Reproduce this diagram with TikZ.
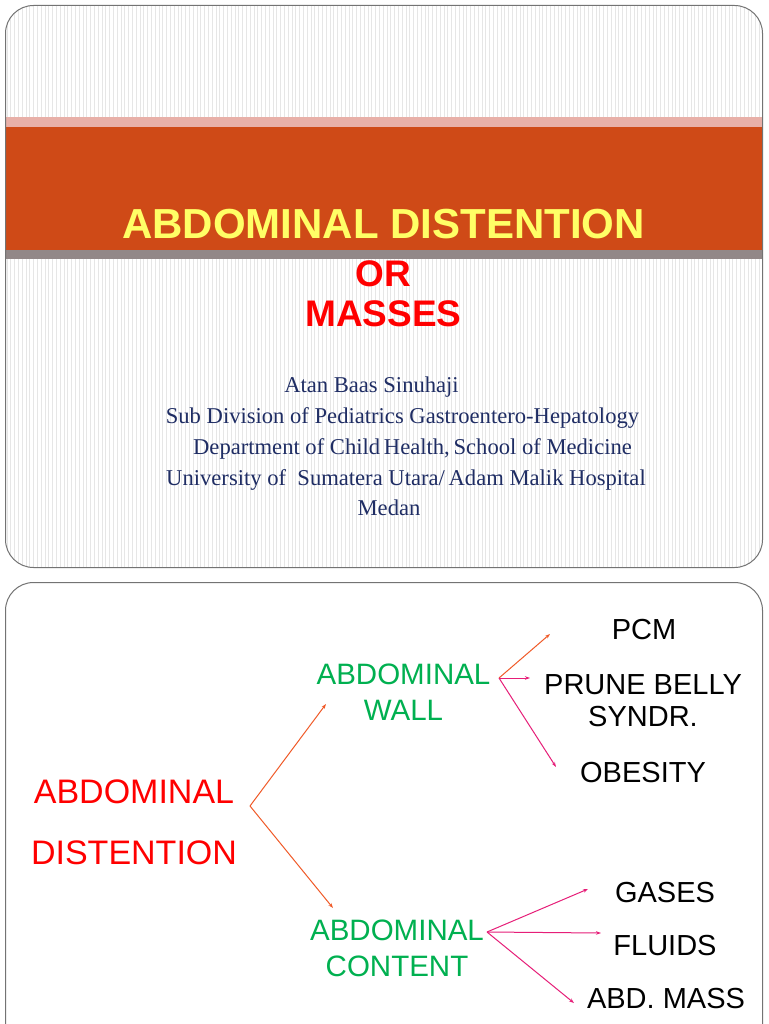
\documentclass[tikz,border=0pt]{standalone}
\usepackage{fontspec}
\setmainfont{Liberation Serif}
\setsansfont{Liberation Sans}
\usetikzlibrary{arrows.meta}
\definecolor{bandpink}{RGB}{232,176,168}
\definecolor{bandorange}{RGB}{207,74,23}
\definecolor{bandgrey}{RGB}{146,136,136}
\definecolor{titleyellow}{RGB}{255,255,102}
\definecolor{navy}{RGB}{31,45,100}
\definecolor{stripegrey}{RGB}{230,230,230}
\definecolor{arroworange}{RGB}{240,90,40}
\definecolor{arrowpink}{RGB}{230,30,120}
\definecolor{wallgreen}{RGB}{0,176,80}
\definecolor{framegrey}{RGB}{115,115,115}
\definecolor{pureRed}{RGB}{255,0,0}
\tikzset{
  slideframe/.style={draw=framegrey, line width=1pt, rounded corners=28pt},
  authorline/.style={anchor=base, inner sep=0pt, text=navy, font=\fontsize{22.6}{22.6}\selectfont},
  rootlabel/.style={text=pureRed, align=center, font=\sffamily\fontsize{34}{61}\selectfont},
  greenlabel/.style={text=wallgreen, align=center, font=\sffamily\fontsize{29.5}{36}\selectfont},
  leaflabel/.style={text=black, align=center, font=\sffamily\fontsize{29}{32}\selectfont},
  orangearrow/.style={draw=arroworange, line width=1pt, -{Stealth[length=5pt,width=3.5pt]}},
  pinkarrow/.style={draw=arrowpink, line width=1pt, -{Stealth[length=5pt,width=3.5pt]}},
}
\begin{document}
\begin{tikzpicture}[x=1pt,y=-1pt]
\useasboundingbox (0,0) rectangle (768,1024);
\begin{scope}
\clip (0,0) rectangle (768,1024);
% ---------- slide 1 ----------
\begin{scope}
\clip[rounded corners=28pt] (5.5,5.5) rectangle (762.5,567.5);
\fill[white] (0,0) rectangle (768,570);
\foreach \x in {7,10.8,...,763} \draw[stripegrey, line width=0.8pt] (\x,5) -- (\x,568);
\fill[bandpink] (0,117) rectangle (768,127);
\fill[bandorange] (0,127) rectangle (768,249.5);
\fill[bandgrey] (0,249.5) rectangle (768,259);
\end{scope}
\draw[slideframe] (5.5,5.5) rectangle (762.5,567.5);

\node[text=titleyellow, font=\sffamily\bfseries\fontsize{42}{42}\selectfont] (title) at (383.5,224) {ABDOMINAL DISTENTION};
\node[text=pureRed, align=center, font=\sffamily\bfseries\fontsize{37}{40}\selectfont] (subtitle) at (383.5,293.5) {OR\\MASSES};

\node[authorline] (auth1) at (371.5,392) {Atan Baas Sinuhaji};
\node[authorline] (auth2) at (402.5,423) {Sub Division of Pediatrics Gastroentero-Hepatology};
\node[authorline] (auth3) at (412.5,454) {Department of Child\,Health,\,School of Medicine};
\node[authorline] (auth4) at (406,485) {University of\ \ Sumatera Utara/\,Adam Malik Hospital};
\node[authorline] (auth5) at (389,515) {Medan};

% ---------- slide 2 ----------
\fill[white, rounded corners=28pt] (5.5,582.5) rectangle (762.5,1070);
\draw[slideframe] (5.5,582.5) rectangle (762.5,1070);

\node[rootlabel] (root) at (134,822.5) {ABDOMINAL\\DISTENTION};
\node[greenlabel] (wall) at (403.5,692) {ABDOMINAL\\WALL};
\node[greenlabel] (content) at (397,948.5) {ABDOMINAL\\CONTENT};

\node[leaflabel] (pcm) at (644,630) {PCM};
\node[leaflabel] (prune) at (643,700.5) {PRUNE BELLY\\SYNDR.};
\node[leaflabel] (obesity) at (643,773) {OBESITY};
\node[leaflabel] (gases) at (665,893) {GASES};
\node[leaflabel] (fluids) at (665,946) {FLUIDS};
\node[leaflabel] (mass) at (666,999) {ABD. MASS};

% connector points
\coordinate (rootfork) at (250,806);
\coordinate (wallin) at (326,704);
\coordinate (contentin) at (333,908);
\coordinate (wallfork) at (499,678);
\coordinate (pcmin) at (550,634);
\coordinate (prunein) at (530,678);
\coordinate (obesityin) at (556,767);
\coordinate (contentfork) at (487,932);
\coordinate (gasesin) at (588,889);
\coordinate (fluidsin) at (601,933);
\coordinate (massin) at (574,1003);

\draw[orangearrow] (rootfork) -- (wallin);
\draw[orangearrow] (rootfork) -- (contentin);
\draw[orangearrow] (wallfork) -- (pcmin);
\draw[pinkarrow] (wallfork) -- (prunein);
\draw[pinkarrow] (wallfork) -- (obesityin);
\draw[pinkarrow] (contentfork) -- (gasesin);
\draw[pinkarrow] (contentfork) -- (fluidsin);
\draw[pinkarrow] (contentfork) -- (massin);
\end{scope}
\end{tikzpicture}
\end{document}
